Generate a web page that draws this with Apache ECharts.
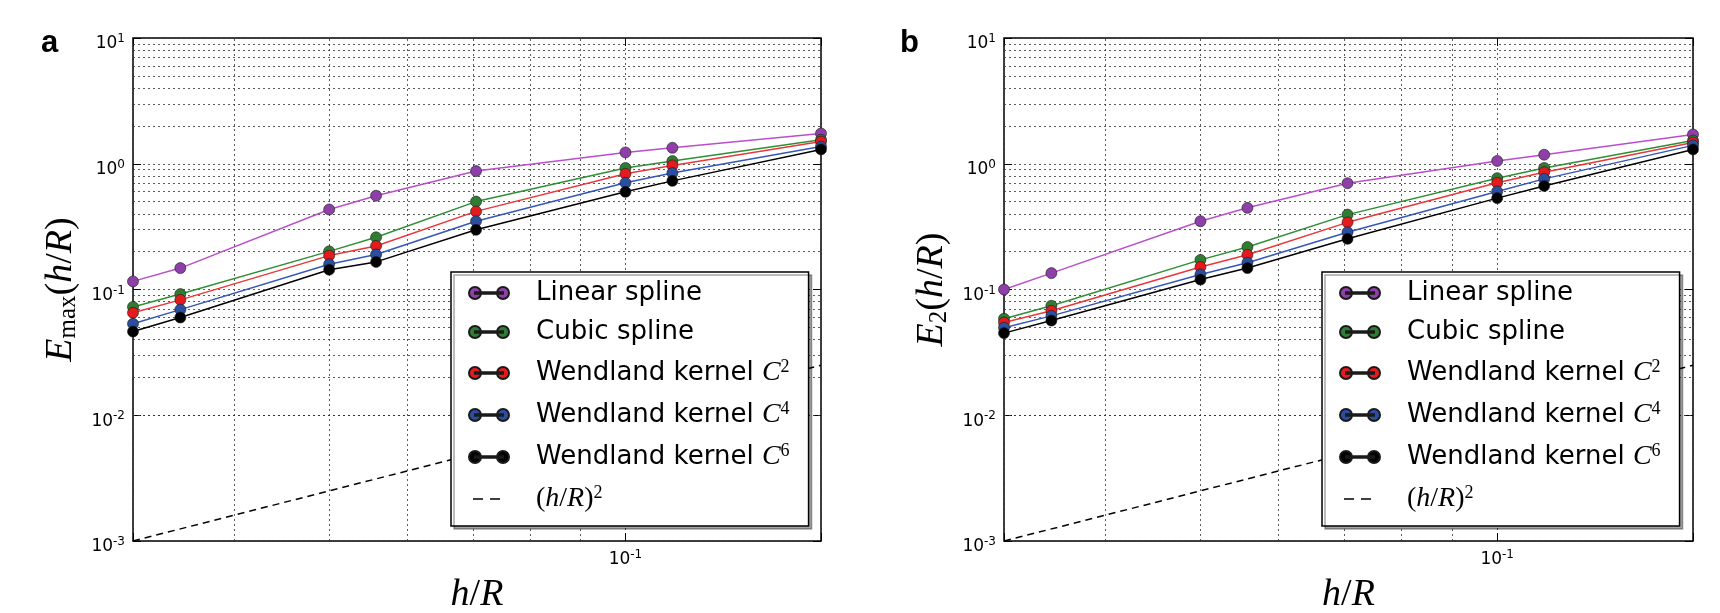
<!DOCTYPE html>
<html>
<head>
<meta charset="utf-8">
<script src="https://cdn.jsdelivr.net/npm/echarts@6/dist/echarts.min.js"></script>
<style>
html, body { margin: 0; padding: 0; background: #fff; }
#main { width: 1720px; height: 613px; }
</style>
</head>
<body>
<div id="main"></div>
<script>
// h/R sample positions (shared by both panels)
var hR = [0.0316, 0.0353, 0.05, 0.0558, 0.0705, 0.1, 0.1116, 0.158];

// panel a : E_max
var linearA = [0.116, 0.148, 0.433, 0.557, 0.875, 1.23, 1.34, 1.74];
var cubicA  = [0.0727, 0.092, 0.201, 0.26, 0.50, 0.926, 1.05, 1.55];
var wC2A    = [0.0653, 0.0827, 0.186, 0.222, 0.418, 0.832, 0.97, 1.50];
var wC4A    = [0.0534, 0.0692, 0.159, 0.19, 0.349, 0.705, 0.843, 1.37];
var wC6A    = [0.0463, 0.0599, 0.1437, 0.1658, 0.2985, 0.598, 0.731, 1.30];

// panel b : E_2
var linearB = [0.100, 0.135, 0.349, 0.446, 0.700, 1.053, 1.18, 1.71];
var cubicB  = [0.0586, 0.0743, 0.172, 0.2177, 0.394, 0.768, 0.926, 1.53];
var wC2B    = [0.0546, 0.0677, 0.151, 0.1887, 0.342, 0.705, 0.856, 1.476];
var wC4B    = [0.0497, 0.0617, 0.1318, 0.1633, 0.2857, 0.602, 0.758, 1.40];
var wC6B    = [0.045, 0.0566, 0.120, 0.148, 0.253, 0.533, 0.666, 1.30];

// reference line (h/R)^2, end points
var refX = [0.0316, 0.158];
var refY = [0.001, 0.025];

var names = ['Linear spline', 'Cubic spline', 'Wendland kernel C2', 'Wendland kernel C4', 'Wendland kernel C6'];
var refName = '(h/R)2';
var markerColors = ['#8e3fa8', '#2e7d32', '#e41a1c', '#2b4ea0', '#000000'];
var lineColors   = ['#bb4fcb', '#2f8f35', '#e8383a', '#3457b8', '#000000'];

var yMajor = [0.001, 0.01, 0.1, 1, 10];
var yMinor = [];
[0.001, 0.01, 0.1, 1].forEach(function (d) {
  [2, 3, 4, 5, 6, 7, 8, 9].forEach(function (m) { yMinor.push(+(d * m).toPrecision(3)); });
});
var xMinor = [0.04, 0.05, 0.06, 0.07, 0.08, 0.09];

var chart = echarts.init(document.getElementById('main'));

var gridStyle = { color: '#333', type: [2, 3], width: 0.8 };
var mathFont = 'Liberation Serif';
var sansFont = 'DejaVu Sans';

function powLabel(v) {
  var e = Math.log(v) / Math.LN10;
  var r = Math.round(e);
  if (Math.abs(e - r) > 1e-6) return '';
  return '{n|10}{s|' + r + '}';
}
var tickRich = {
  n: { fontFamily: sansFont, fontSize: 17, color: '#000', lineHeight: 22 },
  s: { fontFamily: sansFont, fontSize: 12, color: '#000', verticalAlign: 'top', lineHeight: 22 }
};
var mathRich = {
  i: { fontFamily: mathFont, fontStyle: 'italic', fontSize: 38, color: '#000', lineHeight: 40 },
  r: { fontFamily: mathFont, fontSize: 38, color: '#000', lineHeight: 40 },
  sub: { fontFamily: mathFont, fontSize: 25, color: '#000', verticalAlign: 'bottom', lineHeight: 40 }
};

var icon2 = 'path://M0,6A6,6,0,1,1,12,6A6,6,0,1,1,0,6ZM6,5.3L34,5.3L34,6.7L6,6.7ZM28,6A6,6,0,1,1,40,6A6,6,0,1,1,28,6Z';
// two short dashes; the two bare moves only fix the 40x12 box
var iconDash = 'path://M0,0ZM40,12ZM4,5.2L14,5.2L14,6.8L4,6.8ZM21,5.2L31,5.2L31,6.8L21,6.8Z';

function legendFmt(name) {
  var m = name.match(/^(.*) C(\d)$/);
  if (m) return '{t|' + m[1] + ' }{m|C}{s|' + m[2] + '}';
  if (name === refName) return '{r|(}{m|h}{r|/}{m|R}{r|)}{s|2}';
  return '{t|' + name + '}';
}

var panels = [
  { left: 133, width: 688, ys: [linearA, cubicA, wC2A, wC4A, wC6A], yname: '{i|E}{sub|max}{r|(}{i|h}{r|/}{i|R}{r|)}', legLeft: 451 },
  { left: 1004, width: 689, ys: [linearB, cubicB, wC2B, wC4B, wC6B], yname: '{i|E}{sub|2}{r|(}{i|h}{r|/}{i|R}{r|)}', legLeft: 1322 }
];

var grids = [], xAxes = [], yAxes = [], series = [], legends = [];

panels.forEach(function (p, k) {
  grids.push({
    left: p.left, top: 38, width: p.width, height: 503, outerBoundsMode: 'none',
    show: true, borderColor: '#000', borderWidth: 1.5
  });
  xAxes.push({
    type: 'log', logBase: 10, gridIndex: k, min: refX[0], max: refX[1],
    axisLine: { show: false },
    axisTick: { inside: true, length: 8, lineStyle: { color: '#000' } },
    axisLabel: { formatter: powLabel, margin: 8, rich: tickRich },
    splitLine: { show: true, lineStyle: gridStyle },
    name: '{i|h}{r|/}{i|R}', nameLocation: 'middle', nameGap: 34,
    nameTextStyle: { rich: mathRich, lineHeight: 40 }
  });
  // top axis: ticks only
  xAxes.push({
    type: 'log', logBase: 10, gridIndex: k, position: 'top', min: refX[0], max: refX[1],
    axisLine: { show: false }, axisLabel: { show: false }, splitLine: { show: false },
    axisTick: { inside: true, length: 8, lineStyle: { color: '#000' } }
  });
  yAxes.push({
    type: 'log', logBase: 10, gridIndex: k, min: yMajor[0], max: yMajor[yMajor.length - 1],
    axisLine: { show: false },
    axisTick: { inside: true, length: 8, lineStyle: { color: '#000' } },
    axisLabel: { formatter: powLabel, margin: 8, rich: tickRich, padding: [12, 0, 0, 0] },
    splitLine: { show: true, lineStyle: gridStyle },
    name: p.yname, nameLocation: 'middle', nameRotate: 90, nameGap: 52,
    nameTextStyle: { rich: mathRich, lineHeight: 40 }
  });
  // right axis: ticks only
  yAxes.push({
    type: 'log', logBase: 10, gridIndex: k, position: 'right', min: yMajor[0], max: yMajor[yMajor.length - 1],
    axisLine: { show: false }, axisLabel: { show: false }, splitLine: { show: false },
    axisTick: { inside: true, length: 8, lineStyle: { color: '#000' } }
  });

  var ax = 2 * k;
  series.push({
    name: refName, type: 'line', xAxisIndex: ax, yAxisIndex: ax,
    data: refX.map(function (x, j) { return [x, refY[j]]; }),
    symbol: 'none', z: 1,
    lineStyle: { color: '#000', width: 1.5, type: [7, 5] },
    itemStyle: { color: '#000' },
    markLine: {
      silent: true, symbol: ['none', 'none'], animation: false, z: 1,
      label: { show: false }, emphasis: { disabled: true },
      lineStyle: gridStyle,
      data: yMinor.map(function (v) { return { yAxis: v }; })
        .concat(xMinor.map(function (v) { return { xAxis: v }; }))
    }
  });
  p.ys.forEach(function (ys, j) {
    series.push({
      name: names[j], type: 'line', xAxisIndex: ax, yAxisIndex: ax,
      data: hR.map(function (x, n) { return [x, ys[n]]; }),
      symbol: 'circle', symbolSize: 11, z: 2 + j,
      lineStyle: { color: lineColors[j], width: 1.5 },
      itemStyle: { color: markerColors[j], borderColor: '#1a1a1a', borderWidth: 0.6 }
    });
  });

  legends.push({
    left: p.legLeft, top: 272, orient: 'vertical',
    padding: [8, 19, 13, 17], itemGap: 13, itemWidth: 40, itemHeight: 12,
    backgroundColor: '#fff', borderColor: '#000', borderWidth: 1.5,
    shadowColor: 'rgba(0,0,0,0.35)', shadowOffsetX: 3, shadowOffsetY: 3, shadowBlur: 0,
    selectedMode: false,
    data: names.map(function (n) { return { name: n, icon: icon2 }; })
      .concat([{ name: refName, icon: iconDash }]),
    formatter: legendFmt,
    textStyle: {
      padding: [0, 0, 0, 22],
      rich: {
        t: { fontFamily: sansFont, fontSize: 26, color: '#000', lineHeight: 30 },
        m: { fontFamily: mathFont, fontStyle: 'italic', fontSize: 28, color: '#000', lineHeight: 30 },
        r: { fontFamily: mathFont, fontSize: 28, color: '#000', lineHeight: 30 },
        s: { fontFamily: mathFont, fontSize: 18, color: '#000', verticalAlign: 'top', lineHeight: 30 }
      }
    }
  });
});

chart.setOption({
  animation: false,
  backgroundColor: '#fff',
  title: [
    { text: 'a', left: 41, top: 28, padding: 0, textStyle: { fontFamily: 'Liberation Sans', fontWeight: 'bold', fontSize: 31, color: '#000' } },
    { text: 'b', left: 900, top: 28, padding: 0, textStyle: { fontFamily: 'Liberation Sans', fontWeight: 'bold', fontSize: 31, color: '#000' } }
  ],
  grid: grids,
  xAxis: xAxes,
  yAxis: yAxes,
  legend: legends,
  series: series
});
</script>
</body>
</html>
